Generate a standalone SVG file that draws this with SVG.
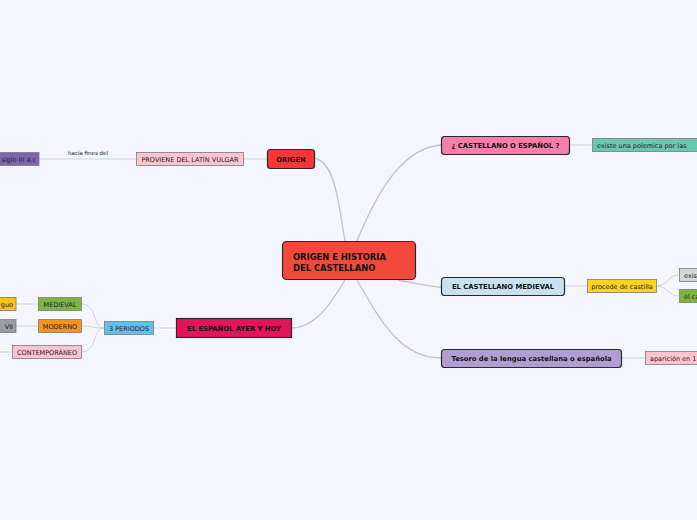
<svg xmlns="http://www.w3.org/2000/svg" width="697" height="520" viewBox="0 0 697 520">
<style>
.bg{fill:#f3f6fe}
.main{stroke:#2a2a2a;stroke-width:1.2}
.sub{stroke:#7a7a7a;stroke-width:0.8}
.tb{font-family:"DejaVu Sans",Verdana,sans-serif;font-weight:bold;font-size:6.8px;fill:#111}
.t{font-family:"DejaVu Sans",Verdana,sans-serif;font-size:6.5px;fill:#222}
.c{fill:none;stroke:#bfc2cc;stroke-width:1.3}
.c2{fill:none;stroke:#cfd2da;stroke-width:1}
</style>
<rect class="bg" x="0" y="0" width="697" height="520"/>
<g id="connectors">
<path class="c" d="M345,241 C338,200 335,162 314,158"/>
<path class="c" d="M357,241 C380,185 405,148 441,145"/>
<path class="c" d="M398,280 C420,284 430,287 441,287"/>
<path class="c" d="M357,280 C380,320 400,358 441,358"/>
<path class="c" d="M345,280 C330,305 315,328 291,328"/>
<path class="c2" d="M243,159 L267,159"/>
<path class="c2" d="M39,159 L136,159"/>
<path class="c2" d="M569,145 L592,145"/>
<path class="c2" d="M564,286 L587,286"/>
<path class="c2" d="M656,286 C668,286 668,275 679,275"/>
<path class="c2" d="M656,286 C668,286 668,296 679,296"/>
<path class="c2" d="M621,358 L645,358"/>
<path class="c2" d="M153,328 L176,328"/>
<path class="c2" d="M104,328 C92,328 98,304 81,304"/>
<path class="c2" d="M104,328 C92,328 92,326 81,326"/>
<path class="c2" d="M104,328 C92,328 98,352 81,352"/>
<path class="c2" d="M16,304 L38,304"/>
<path class="c2" d="M16,326 L38,326"/>
<path class="c2" d="M0,352 L12,352"/>
</g>
<g id="central">
<rect class="main" x="282.5" y="241.5" width="133" height="38" rx="4" fill="#f2493b"/>
<text class="tb" style="font-size:8.4px" x="293" y="260">ORIGEN E HISTORIA</text>
<text class="tb" style="font-size:8.4px" x="293" y="271">DEL CASTELLANO</text>
</g>
<g id="origen">
<rect class="main" x="267.5" y="149.5" width="47" height="19" rx="3" fill="#ff3434"/>
<text class="tb" x="291" y="161.5" text-anchor="middle">ORIGEN</text>
</g>
<g id="proviene">
<rect class="sub" x="136.5" y="152.5" width="107" height="13" fill="#ffc4cf"/>
<text class="t" x="190" y="161.5" text-anchor="middle">PROVIENE DEL LATÍN VULGAR</text>
</g>
<g id="hacia-label">
<text class="t" style="font-size:5.5px" x="88" y="155" text-anchor="middle">hacia fines del</text>
</g>
<g id="siglo">
<rect class="sub" x="-5" y="152.5" width="44" height="13" fill="#7e65b1"/>
<text class="t" x="36" y="161.5" text-anchor="end">siglo III a.c</text>
</g>
<g id="castellano-espanol">
<rect class="main" x="441.5" y="136.5" width="128" height="18" rx="3" fill="#f57fab"/>
<text class="tb" x="505.5" y="148" text-anchor="middle">¿ CASTELLANO O ESPAÑOL ?</text>
</g>
<g id="polemica">
<rect class="sub" x="592.5" y="138.5" width="120" height="13" fill="#6cc6b4"/>
<text class="t" x="597" y="147.5">existe una polemica por las</text>
</g>
<g id="medieval-main">
<rect class="main" x="441.5" y="277.5" width="123" height="18" rx="3" fill="#c8e1f1"/>
<text class="tb" x="503" y="289" text-anchor="middle">EL CASTELLANO MEDIEVAL</text>
</g>
<g id="procede">
<rect class="sub" x="587.5" y="279.5" width="69" height="13" fill="#ffd320"/>
<text class="t" x="622" y="288.5" text-anchor="middle">procede de castilla</text>
</g>
<g id="existe">
<rect class="sub" x="679.5" y="268.5" width="30" height="13" fill="#d6d6d6"/>
<text class="t" x="684" y="277.5">exist</text>
</g>
<g id="elca">
<rect class="sub" x="679.5" y="289.5" width="30" height="13" fill="#7cb53e"/>
<text class="t" x="684" y="298.5">el ca</text>
</g>
<g id="tesoro">
<rect class="main" x="441.5" y="349.5" width="180" height="18" rx="3" fill="#b39cd2"/>
<text class="tb" x="531.5" y="361" text-anchor="middle">Tesoro de la lengua castellana o española</text>
</g>
<g id="aparicion">
<rect class="sub" x="645.5" y="351.5" width="60" height="13" fill="#ffc4cf"/>
<text class="t" x="650" y="360.5">aparición en 1</text>
</g>
<g id="ayer-hoy">
<rect class="main" x="176.5" y="318.5" width="115" height="19" fill="#e2155b"/>
<text class="tb" x="234" y="330.5" text-anchor="middle">EL ESPAÑOL AYER Y HOY</text>
</g>
<g id="periodos">
<rect class="sub" x="104.5" y="321.5" width="49" height="13" fill="#5cc2ec"/>
<text class="t" x="129" y="330.5" text-anchor="middle">3 PERIODOS</text>
</g>
<g id="medieval">
<rect class="sub" x="38.5" y="297.5" width="43" height="13" fill="#7db443"/>
<text class="t" x="60" y="306.5" text-anchor="middle">MEDIEVAL</text>
</g>
<g id="moderno">
<rect class="sub" x="38.5" y="319.5" width="43" height="13" fill="#f7921f"/>
<text class="t" x="60" y="328.5" text-anchor="middle">MODERNO</text>
</g>
<g id="contemporaneo">
<rect class="sub" x="12.5" y="345.5" width="69" height="13" fill="#ffc4cf"/>
<text class="t" x="47" y="354.5" text-anchor="middle">CONTEMPORÁNEO</text>
</g>
<g id="antiguo">
<rect class="sub" x="-10" y="297.5" width="26" height="13" fill="#ffc21a"/>
<text class="t" x="13" y="306.5" text-anchor="end">guo</text>
</g>
<g id="xvii">
<rect class="sub" x="-10" y="319.5" width="26" height="13" fill="#979da6"/>
<text class="t" x="13" y="328.5" text-anchor="end">VII</text>
</g>
</svg>
